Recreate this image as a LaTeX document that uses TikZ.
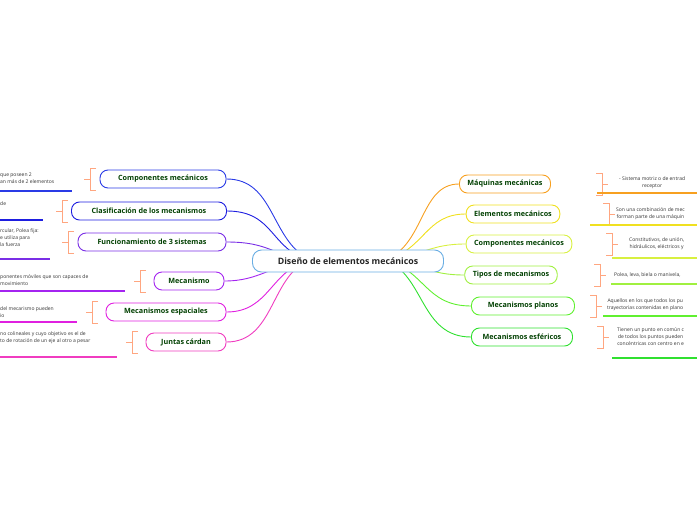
\documentclass[tikz,border=0pt]{standalone}
\usepackage{fontspec}
\setmainfont{Open Sans}
\begin{document}
\begin{tikzpicture}[x=1pt,y=-1pt,
 topic/.style={draw=#1,line width=0.9pt,rounded corners=8pt,fill=white,minimum height=18pt,font=\fontsize{7.2}{8}\selectfont\bfseries,text=green!25!black,inner xsep=8pt},
 note/.style={font=\fontsize{5}{7}\selectfont,align=left,anchor=west,inner sep=0pt,text=black!80},
 noter/.style={font=\fontsize{5}{7}\selectfont,align=center,anchor=west,inner sep=0pt,text=black!80},
 brk/.style={draw=orange!60!red!50,line width=0.6pt},
 ul/.style={line width=1.2pt}]
\useasboundingbox (0,0) rectangle (697,520);
\clip (0,0) rectangle (697,520);
\definecolor{cA}{HTML}{2A3BE6}\definecolor{cB}{HTML}{1E1EE0}\definecolor{cC}{HTML}{7A2EE6}
\definecolor{cD}{HTML}{A424F0}\definecolor{cE}{HTML}{E020E0}\definecolor{cF}{HTML}{F03CC0}
\definecolor{rA}{HTML}{F7A020}\definecolor{rB}{HTML}{F0E020}\definecolor{rC}{HTML}{D8F040}
\definecolor{rD}{HTML}{A0F040}\definecolor{rE}{HTML}{60F030}\definecolor{rF}{HTML}{30E030}
\coordinate (cl) at (310,260); \coordinate (cr) at (385,260);
\node[topic=cA,minimum width=126pt] (l1) at (163,179) {Componentes mecánicos};
\node[topic=cB,minimum width=155pt] (l2) at (149,211) {Clasificación de los mecanismos};
\node[topic=cC,minimum width=148pt] (l3) at (152,242) {Funcionamiento de 3 sistemas};
\node[topic=cD,minimum width=70pt] (l4) at (189,281) {Mecanismo};
\node[topic=cE,minimum width=120pt] (l5) at (166,312) {Mecanismos espaciales};
\node[topic=cF,minimum width=80pt] (l6) at (186,342) {Juntas cárdan};
\node[topic=rA,minimum width=72pt] (r1) at (505,184) {Máquinas mecánicas};
\node[topic=rB,minimum width=84pt] (r2) at (513,214) {Elementos mecánicos};
\node[topic=rC,minimum width=94pt] (r3) at (519,244) {Componentes mecánicos};
\node[topic=rD,minimum width=80pt] (r4) at (511,275) {Tipos de mecanismos};
\node[topic=rE,minimum width=103pt] (r5) at (523,306) {Mecanismos planos};
\node[topic=rF,minimum width=101pt] (r6) at (522,337) {Mecanismos esféricos};
\begin{scope}[line width=0.9pt]
\draw[cA] (cl) .. controls (270,240) and (275,179) .. (l1.east);
\draw[cB] (cl) .. controls (270,250) and (275,211) .. (l2.east);
\draw[cC] (cl) .. controls (270,255) and (270,242) .. (l3.east);
\draw[cD] (cl) .. controls (270,265) and (260,281) .. (l4.east);
\draw[cE] (cl) .. controls (270,270) and (270,312) .. (l5.east);
\draw[cF] (cl) .. controls (270,275) and (275,342) .. (l6.east);
\draw[rA] (cr) .. controls (425,245) and (420,184) .. (r1.west);
\draw[rB] (cr) .. controls (425,250) and (425,214) .. (r2.west);
\draw[rC] (cr) .. controls (425,255) and (430,244) .. (r3.west);
\draw[rD] (cr) .. controls (425,265) and (430,275) .. (r4.west);
\draw[rE] (cr) .. controls (425,270) and (425,306) .. (r5.west);
\draw[rF] (cr) .. controls (425,275) and (420,337) .. (r6.west);
\end{scope}
\node[draw=cyan!70!blue!60,line width=0.9pt,rounded corners=9pt,fill=white,minimum height=22pt,minimum width=191pt,font=\fontsize{8.8}{10}\selectfont\bfseries,text=black!85] (c) at (348,261) {Diseño de elementos mecánicos};
\foreach \x/\y/\h in {96/179/11, 68/211/11, 74/242/11, 146/281/11, 98/312/11, 138/342/11}{
 \draw[brk] (\x,\y-\h) -- (\x-6,\y-\h) -- (\x-6,\y+\h) -- (\x,\y+\h) (\x-6,\y) -- (\x-12,\y);}
\foreach \x/\y/\h in {596/184/11, 603/214/11, 606/244/11, 594/275/11, 590/306/11, 597/337/11}{
 \draw[brk] (\x,\y-\h) -- (\x+6,\y-\h) -- (\x+6,\y+\h) -- (\x,\y+\h) (\x+6,\y) -- (\x+12,\y);}
\node[note] (n1) at (0,178) {que poseen 2\\an más de 2 elementos};
\draw[ul,cA] (0,191) -- (72,191);
\node[note] (n2) at (0,204) {de};
\draw[ul,cB] (0,220) -- (43,220);
\node[note] (n3) at (0,238) {rcular, Polea fija:\\e utiliza para\\la fuerza};
\draw[ul,cC] (0,259) -- (50,259);
\node[note] (n4) at (0,280) {ponentes móviles que son capaces de\\movimiento};
\draw[ul,cD] (0,291) -- (125,291);
\node[note] (n5) at (0,312) {del mecarismo pueden\\io};
\draw[ul,cE] (0,322) -- (77,322);
\node[note] (n6) at (0,338) {no colineales y cuyo objetivo es el de\\to de rotación de un eje al otro a pesar};
\draw[ul,cF] (0,357) -- (117,357);
\node[noter] (m1) at (619,183) {- Sistema motriz o de entrad\\receptor};
\draw[ul,rA] (597,193) -- (697,193);
\node[noter] (m2) at (616,214) {Son una combinación de mec\\forman parte de una máquin};
\draw[ul,rB] (590,225) -- (697,225);
\node[noter] (m3) at (629,244) {Constitutivos, de unión, \\hidráulicos, eléctricos y };
\draw[ul,rC] (612,258) -- (697,258);
\node[noter] (m4) at (614,275) {Polea, leva, biela o manivela,};
\draw[ul,rD] (611,284) -- (697,284);
\node[noter] (m5) at (607,305) {Aquellos en los que todos los pu\\trayectorias contenidas en plano};
\draw[ul,rE] (603,316) -- (697,316);
\node[noter] (m6) at (617,337) {Tienen  un punto en común c\\de todos los puntos pueden \\concéntricas con centro en e};
\draw[ul,rF] (612,358) -- (697,358);
\end{tikzpicture}
\end{document}
